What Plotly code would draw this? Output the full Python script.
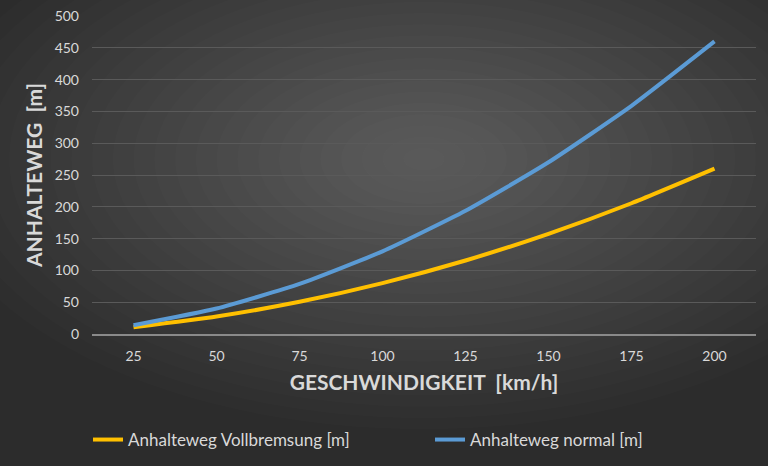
import plotly.graph_objects as go

speed = [25, 50, 75, 100, 125, 150, 175, 200]
voll = [10.6, 27.5, 50.6, 80, 115.6, 157.5, 205.6, 260]
normal = [13.75, 40, 78.75, 130, 193.75, 270, 358.75, 460]
yticks = [0, 50, 100, 150, 200, 250, 300, 350, 400, 450, 500]

W, H = 768, 466

fig = go.Figure()
fig.add_trace(go.Scatter(x=speed, y=voll, mode="lines", name="Anhalteweg Vollbremsung [m]",
                         line=dict(color="#FFC000", width=4, shape="spline", smoothing=0.5),
                         legend="legend"))
fig.add_trace(go.Scatter(x=speed, y=normal, mode="lines", name="Anhalteweg normal [m]",
                         line=dict(color="#5B9BD5", width=4, shape="spline", smoothing=0.5),
                         legend="legend2"))

# radial background gradient (decoration)
shapes = []
n = 24
cx, cy = 0.5, 0.55
for i in range(n):
    f = 1 - i / n
    rx, ry = 0.75 * f, 0.85 * f
    shapes.append(dict(type="circle", xref="paper", yref="paper", layer="below",
                       x0=cx - rx, x1=cx + rx, y0=cy - ry, y1=cy + ry,
                       fillcolor="rgba(255,255,255,0.012)", line=dict(width=0)))

leg_common = dict(orientation="h", xref="container", yref="container",
                  xanchor="left", y=1 - 440 / H, yanchor="middle",
                  font=dict(size=17, color="#d9d9d9"), bgcolor="rgba(0,0,0,0)")

fig.update_layout(
    width=W, height=H,
    margin=dict(l=92, r=12, t=16, b=132, autoexpand=False),
    paper_bgcolor="#2c2c2c", plot_bgcolor="rgba(0,0,0,0)",
    font=dict(family="Lato, Open Sans, sans-serif", color="#d9d9d9", size=13),
    showlegend=True,
    shapes=shapes,
    legend=dict(x=88 / W, **leg_common),
    legend2=dict(x=430 / W, **leg_common),
)
fig.update_xaxes(range=[12.5, 212.5], tickvals=speed, showgrid=False, zeroline=False,
                 showline=True, linecolor="#8a8a8a", linewidth=2,
                 ticks="", tickfont=dict(size=14, color="#d9d9d9"), ticklabelstandoff=8,
                 title=dict(text="<b>GESCHWINDIGKEIT  [km/h]</b>", font=dict(size=21, color="#d9d9d9"), standoff=13))
fig.update_yaxes(range=[0, 500], tickvals=yticks, showgrid=True, gridcolor="#5a5a5a", gridwidth=1,
                 zeroline=False, showline=False, ticks="", tickfont=dict(size=14, color="#d9d9d9"),
                 ticklabelstandoff=12,
                 title=dict(text="<b>ANHALTEWEG  [m]</b>", font=dict(size=21, color="#d9d9d9"), standoff=6))

fig.write_html("out.html")
